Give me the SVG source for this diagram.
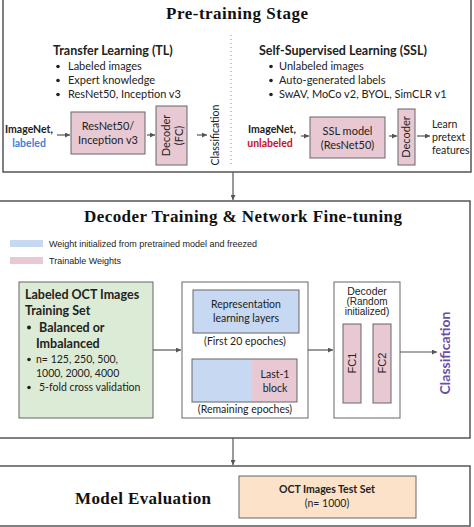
<svg xmlns="http://www.w3.org/2000/svg" width="474" height="527" viewBox="0 0 474 527">
<defs>
<marker id="ah" viewBox="0 0 6 6" refX="6" refY="3" markerWidth="5" markerHeight="5" orient="auto" markerUnits="userSpaceOnUse">
<path d="M0,0 L6,3 L0,6 z" fill="#555"/>
</marker>
<linearGradient id="tl" x1="0" x2="1" y1="0" y2="0">
<stop offset="0" stop-color="#999"/><stop offset="0.3" stop-color="#ddd"/><stop offset="0.45" stop-color="#888"/><stop offset="1" stop-color="#999"/>
</linearGradient>
<style>
.ser{font-family:"Liberation Serif","DejaVu Serif",serif;font-weight:bold;fill:#111}
.s{font-family:Lato,"Liberation Sans",sans-serif;fill:#222}
.b{font-weight:bold}
.a{font-family:"Liberation Sans",Arial,sans-serif;fill:#222}
.panel{fill:#fff;stroke:#555;stroke-width:1.5}
.box{stroke:#666;stroke-width:1}
.pink{fill:#e8c9d3}
.blue{fill:#c7d8f2}
.con{stroke:#555;stroke-width:1.2;fill:none;marker-end:url(#ah)}
</style>
</defs>
<rect width="474" height="527" fill="#fff"/>

<g id="pretraining">
<path d="M3,0 V172 H471 V0" class="panel"/>
<text x="237" y="19" class="ser" font-size="17" text-anchor="middle" textLength="142">Pre-training Stage</text>
<line x1="6" y1="26" x2="468" y2="26" stroke="url(#tl)" stroke-width="1.5"/>
<line x1="231" y1="35" x2="231" y2="166" stroke="#888" stroke-width="1" stroke-dasharray="1,3"/>
</g>

<g id="tl">
<text x="53" y="55" class="s b" font-size="12.5">Transfer Learning (TL)</text>
<g class="s" font-size="11">
<circle cx="58" cy="66.5" r="1.8" fill="#222"/><text x="68" y="70">Labeled images</text>
<circle cx="58" cy="80.5" r="1.8" fill="#222"/><text x="68" y="84">Expert knowledge</text>
<circle cx="58" cy="94.5" r="1.8" fill="#222"/><text x="68" y="98">ResNet50, Inception v3</text>
</g>
</g>
<g id="tl-input">
<text x="29" y="133" class="s b" font-size="10.5" text-anchor="middle">ImageNet,</text>
<text x="29" y="147" class="s b" font-size="10.5" text-anchor="middle" style="fill:#3f80d8">labeled</text>
</g>
<g id="tl-resnet">
<rect x="71" y="112" width="74" height="42" class="box pink"/>
<text x="108" y="130" class="s" font-size="11" text-anchor="middle">ResNet50/</text>
<text x="108" y="144" class="s" font-size="11" text-anchor="middle">Inception v3</text>
</g>
<g id="tl-decoder">
<rect x="156" y="106" width="31" height="59" class="box pink"/>
<text transform="translate(170,135.5) rotate(-90)" class="s" font-size="11" text-anchor="middle">Decoder</text>
<text transform="translate(183,135.5) rotate(-90)" class="s" font-size="11" text-anchor="middle">(FC)</text>
</g>
<g id="tl-output">
<text transform="translate(219,135) rotate(-90)" class="s" font-size="10.5" text-anchor="middle">Classification</text>
</g>

<g id="ssl">
<text x="259" y="55" class="s b" font-size="12.5">Self-Supervised Learning (SSL)</text>
<g class="s" font-size="11">
<circle cx="271" cy="66.5" r="1.8" fill="#222"/><text x="279" y="70">Unlabeled images</text>
<circle cx="271" cy="80.5" r="1.8" fill="#222"/><text x="279" y="84">Auto-generated labels</text>
<circle cx="271" cy="94.5" r="1.8" fill="#222"/><text x="279" y="98">SwAV, MoCo v2, BYOL, SimCLR v1</text>
</g>
</g>
<g id="ssl-input">
<text x="272" y="133" class="s b" font-size="10.5" text-anchor="middle">ImageNet,</text>
<text x="270" y="147" class="s b" font-size="10.5" text-anchor="middle" style="fill:#c8101e">unlabeled</text>
</g>
<g id="ssl-model">
<rect x="310" y="117" width="75" height="41" class="box pink"/>
<text x="347.5" y="135" class="s" font-size="11" text-anchor="middle">SSL model</text>
<text x="347.5" y="149" class="s" font-size="11" text-anchor="middle">(ResNet50)</text>
</g>
<g id="ssl-decoder">
<rect x="398" y="109" width="17" height="56" class="box pink"/>
<text transform="translate(410,137) rotate(-90)" class="s" font-size="11" text-anchor="middle">Decoder</text>
</g>
<g id="ssl-output" class="s" font-size="10.5">
<text x="432" y="128">Learn</text>
<text x="432" y="141">pretext</text>
<text x="432" y="154">features</text>
</g>

<g id="finetune">
<path d="M0,201 H470 V438 H0" class="panel"/>
<text x="243" y="222" class="ser" font-size="17" text-anchor="middle" textLength="318">Decoder Training &amp; Network Fine-tuning</text>
<line x1="5" y1="230" x2="467" y2="230" stroke="url(#tl)" stroke-width="1.5"/>
</g>
<g id="legend">
<rect x="10" y="240" width="33" height="7" class="blue"/>
<text x="49" y="247" class="a" font-size="9">Weight initialized from pretrained model and freezed</text>
<rect x="10" y="257" width="33" height="7" class="pink"/>
<text x="49" y="264" class="a" font-size="9">Trainable Weights</text>
</g>
<g id="train-set">
<rect x="19" y="282" width="134" height="136" class="box" fill="#dcebd5"/>
<text x="25" y="299" class="s b" font-size="12.5">Labeled OCT Images</text>
<text x="25" y="315" class="s b" font-size="12.5">Training Set</text>
<circle cx="29" cy="327.5" r="2" fill="#222"/>
<text x="39" y="332" class="s b" font-size="12.5">Balanced or</text>
<text x="36" y="348" class="s b" font-size="12.5">Imbalanced</text>
<circle cx="29" cy="359.5" r="1.8" fill="#222"/>
<text x="36" y="363" class="s" font-size="10.5">n= 125, 250, 500,</text>
<text x="36" y="377" class="s" font-size="10.5">1000, 2000, 4000</text>
<circle cx="29" cy="387.5" r="1.8" fill="#222"/>
<text x="39" y="391" class="s" font-size="10.5">5-fold cross validation</text>
</g>
<g id="encoder">
<rect x="182" y="282" width="126" height="136" class="box" fill="#fff"/>
<rect x="193" y="290" width="106" height="43" class="box blue"/>
<text x="246" y="308" class="s" font-size="10.5" text-anchor="middle">Representation</text>
<text x="246" y="322" class="s" font-size="10.5" text-anchor="middle">learning layers</text>
<text x="245" y="345" class="s" font-size="10.5" text-anchor="middle">(First 20 epoches)</text>
<rect x="192" y="359" width="60" height="43" class="blue"/>
<rect x="252" y="359" width="45" height="43" class="pink"/>
<rect x="192" y="359" width="105" height="43" fill="none" class="box"/>
<text x="275" y="378" class="s" font-size="10.5" text-anchor="middle">Last-1</text>
<text x="275" y="392" class="s" font-size="10.5" text-anchor="middle">block</text>
<text x="245" y="413" class="s" font-size="10.5" text-anchor="middle">(Remaining epoches)</text>
</g>
<g id="decoder">
<rect x="334" y="282" width="66" height="136" class="box" fill="#fff"/>
<text x="367" y="295" class="a" font-size="10.5" text-anchor="middle">Decoder</text>
<text x="367" y="305" class="a" font-size="10" text-anchor="middle">(Random</text>
<text x="367" y="315" class="a" font-size="10" text-anchor="middle">initialized)</text>
<rect x="343" y="324" width="18" height="79" class="box pink"/>
<text transform="translate(356,363) rotate(-90)" class="a" font-size="11" text-anchor="middle">FC1</text>
<rect x="373" y="324" width="18" height="79" class="box pink"/>
<text transform="translate(386,363) rotate(-90)" class="a" font-size="11" text-anchor="middle">FC2</text>
</g>
<g id="classification">
<text transform="translate(450,353) rotate(-90)" class="s b" font-size="14" text-anchor="middle" style="fill:#6a4ea8">Classification</text>
</g>

<g id="evaluation">
<path d="M0,466 H470 V526 H0" class="panel"/>
<text x="143" y="504" class="ser" font-size="17" text-anchor="middle" textLength="136">Model Evaluation</text>
</g>
<g id="test-set">
<rect x="239" y="476" width="177" height="42" class="box" fill="#fbe2c9"/>
<text x="327" y="493" class="s b" font-size="10.5" text-anchor="middle">OCT Images Test Set</text>
<text x="327" y="507" class="s" font-size="10.5" text-anchor="middle">(n= 1000)</text>
</g>

<g id="connectors">
<line x1="57" y1="135" x2="70" y2="135" class="con"/>
<line x1="147" y1="135" x2="155" y2="135" class="con"/>
<line x1="197" y1="135" x2="207" y2="135" class="con"/>
<line x1="301" y1="136" x2="309" y2="136" class="con"/>
<line x1="389" y1="136" x2="397" y2="136" class="con"/>
<line x1="417" y1="136" x2="430" y2="136" class="con"/>
<line x1="233" y1="172" x2="233" y2="200" class="con"/>
<line x1="153" y1="350" x2="181" y2="350" class="con"/>
<line x1="308" y1="350" x2="333" y2="350" class="con"/>
<line x1="400" y1="352" x2="437" y2="352" class="con"/>
<line x1="233" y1="438" x2="233" y2="465" class="con"/>
</g>
</svg>
